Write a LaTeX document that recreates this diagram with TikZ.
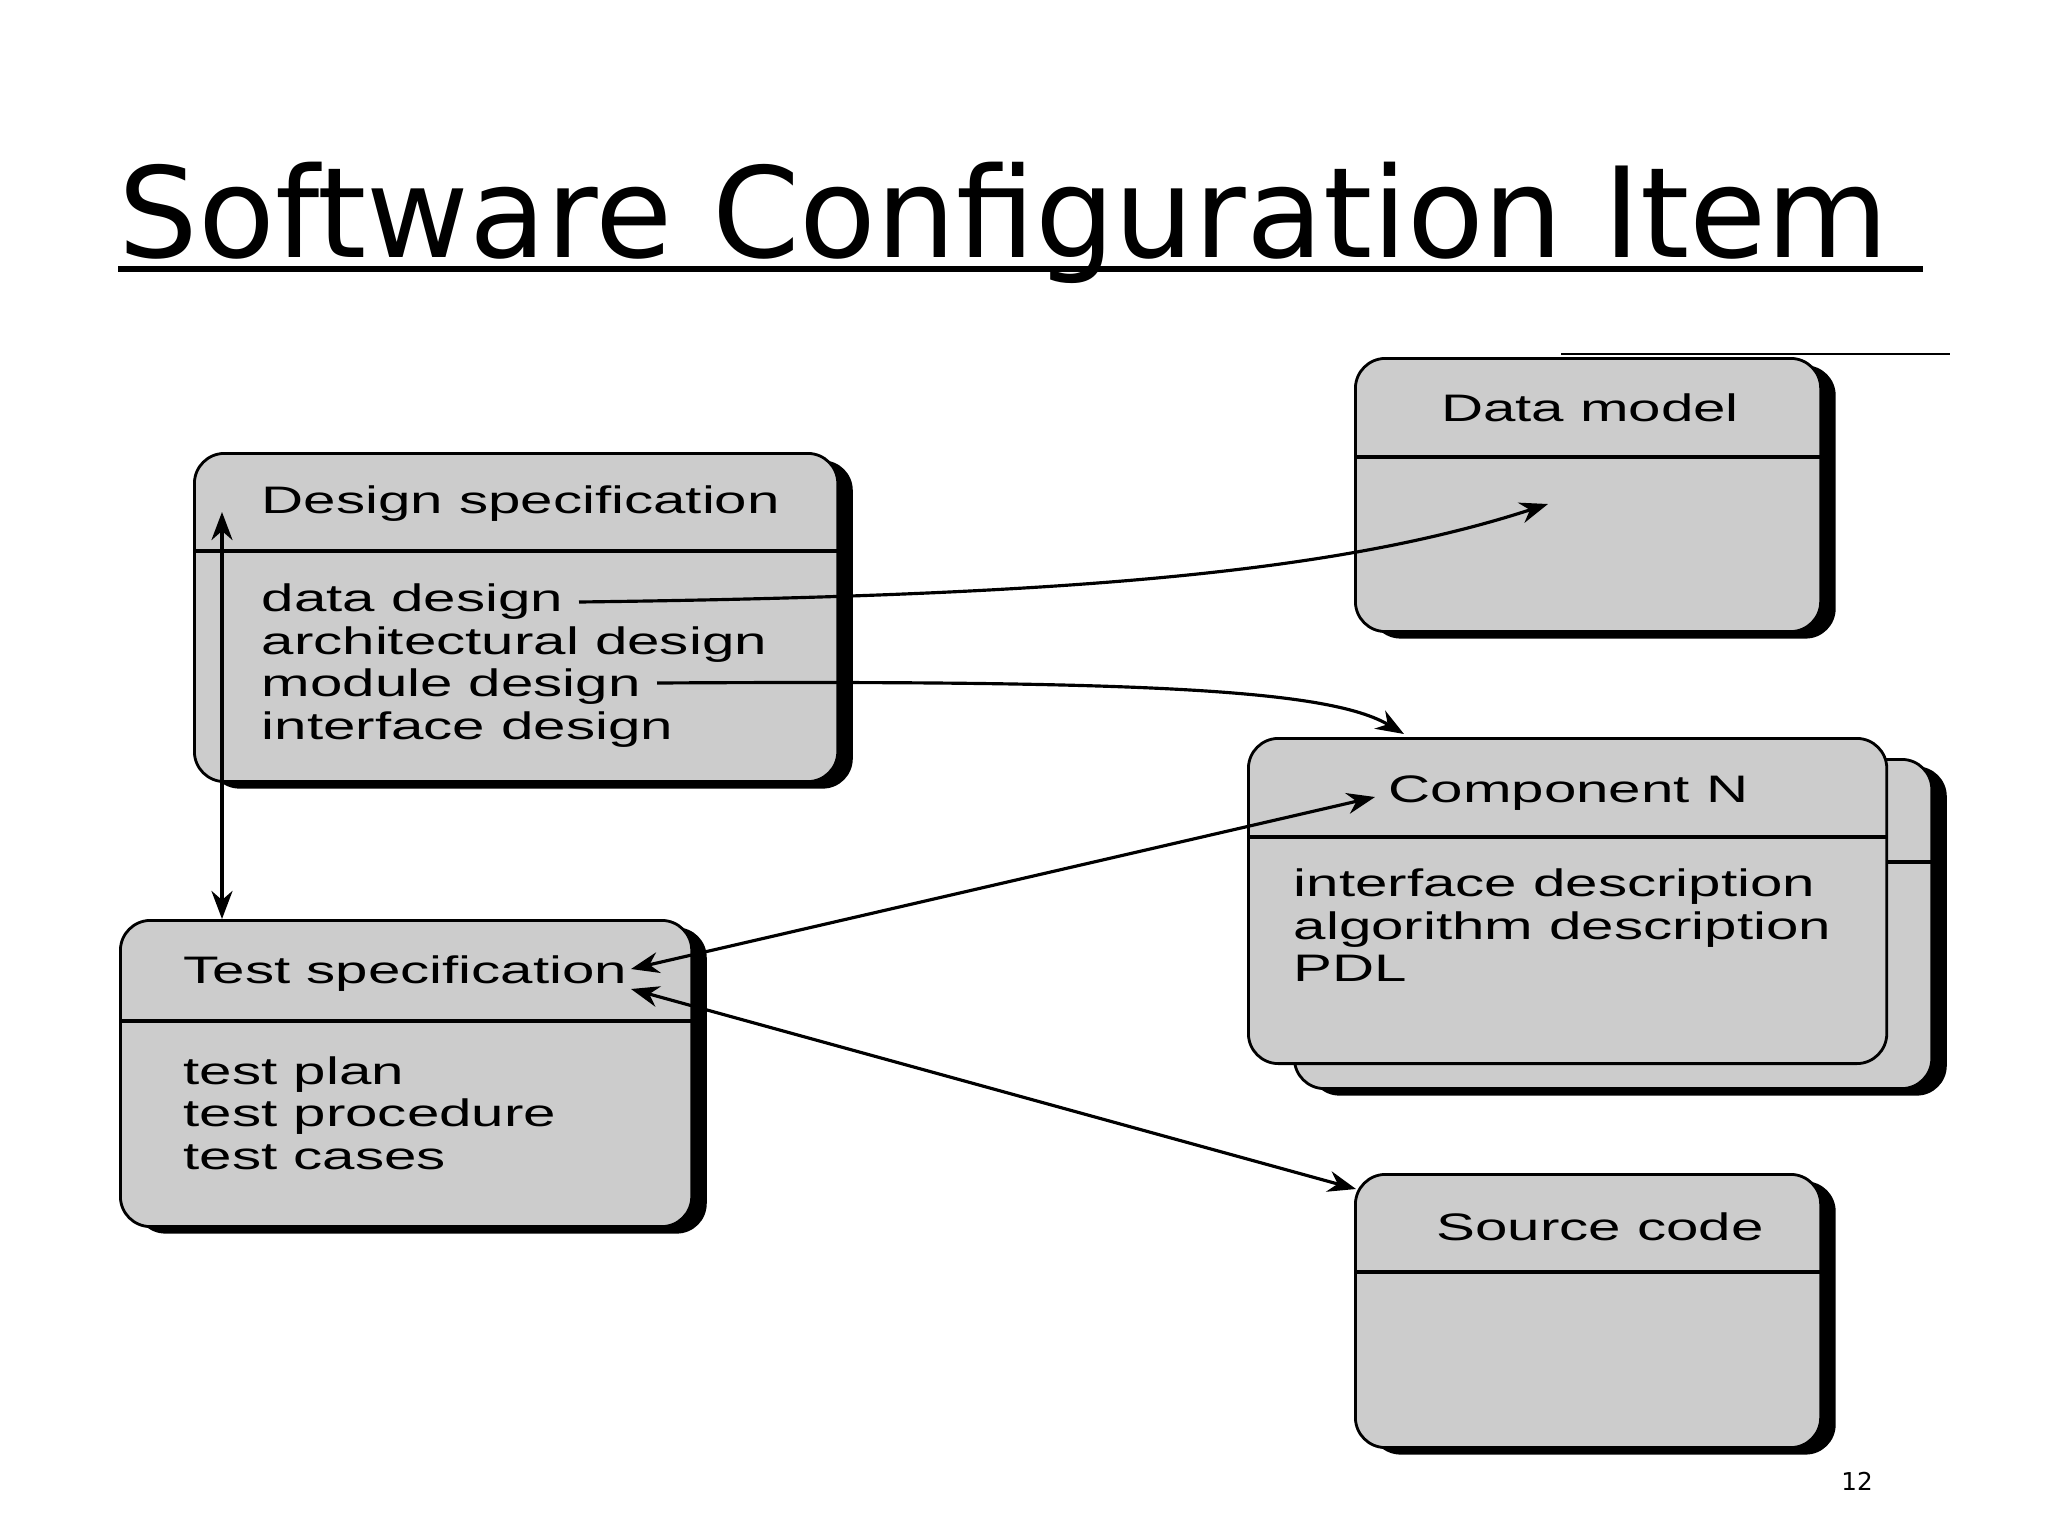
\documentclass[tikz,border=0pt]{standalone}
\usepackage{fontspec}
\usetikzlibrary{arrows.meta,shadows}
\newfontfamily\titlefont{DejaVu Sans}
\newfontfamily\diagfont[FakeStretch=1.52]{Liberation Sans}
\definecolor{boxgray}{RGB}{204,204,204}
\tikzset{
  box/.style={draw=black, line width=0.8pt, fill=boxgray, rounded corners=0.3cm, anchor=north west, inner sep=0pt},
  shadowed/.style={drop shadow={shadow xshift=0.15cm, shadow yshift=-0.07cm, opacity=1, fill=black}},
  divider/.style={line width=1pt},
  lbl/.style={font=\diagfont\fontsize{10.9pt}{12pt}\selectfont, inner sep=0pt, anchor=base west},
  ttl/.style={font=\diagfont\fontsize{10.9pt}{12pt}\selectfont, inner sep=0pt, anchor=base},
  conn/.style={line width=0.9pt},
  tip/.style={-{Stealth[length=8pt,width=6pt]}},
  tips/.style={{Stealth[length=8pt,width=6pt]}-{Stealth[length=8pt,width=6pt]}}
}
\begin{document}
\begin{tikzpicture}[x=0.01cm,y=-0.01cm]
\useasboundingbox (0,0) rectangle (2048,1536);
% title
\node[font=\titlefont\fontsize{35.7pt}{40pt}\selectfont, inner sep=0pt, anchor=base west] (title) at (118,257) {Software Configuration Item};
\draw[line width=1.85pt] (title.base west |- 0,269) -- (1923,269);
% thin line top right
\coordinate (tl1) at (1561,354);
\coordinate (tl2) at (1950,354);
\draw[line width=0.6pt] (tl1) -- (tl2);

% Design specification
\node[box, shadowed, minimum width=6.43cm, minimum height=3.28cm] (ds) at (193,452) {};
\draw[divider] (ds.west |- 0,551) -- (ds.east |- 0,551);
\node[lbl] (dst) at (261,513) {Design specification};
\node[lbl] (dd) at (261,611) {data design};
\node[lbl] (ad) at (261,654) {architectural design};
\node[lbl] (md) at (261,696) {module design};
\node[lbl] (id) at (261,739) {interface design};

% Data model
\node[box, shadowed, minimum width=4.65cm, minimum height=2.73cm] (dm) at (1354,357) {};
\draw[divider] (dm.west |- 0,457) -- (dm.east |- 0,457);
\node[ttl] (dmt) at (1590,421) {Data model};

% Component N (back and front)
\node[box, shadowed, minimum width=6.37cm, minimum height=3.29cm] (cnb) at (1293,758) {};
\draw[divider] (cnb.west |- 0,862) -- (cnb.east |- 0,862);
\node[box, minimum width=6.38cm, minimum height=3.25cm] (cn) at (1247,737) {};
\draw[divider] (cn.west |- 0,837) -- (cn.east |- 0,837);
\node[lbl] (cnt) at (1388,802) {Component N};
\node[lbl] (ifd) at (1293,896) {interface description};
\node[lbl] (alg) at (1293,939) {algorithm description};
\node[lbl] (pdl) at (1293,981) {PDL};

% Test specification
\node[box, shadowed, minimum width=5.71cm, minimum height=3.06cm] (ts) at (119,919) {};
\draw[divider] (ts.west |- 0,1021) -- (ts.east |- 0,1021);
\node[lbl] (tst) at (183,983) {Test specification};
\node[lbl] (tp) at (183,1084) {test plan};
\node[lbl] (tpr) at (183,1126) {test procedure};
\node[lbl] (tc) at (183,1169) {test cases};

% Source code
\node[box, shadowed, minimum width=4.65cm, minimum height=2.73cm] (sc) at (1354,1173) {};
\draw[divider] (sc.west |- 0,1272) -- (sc.east |- 0,1272);
\node[ttl] (sct) at (1600,1240) {Source code};

% connector end points
\coordinate (ddstart) at (579,602);
\coordinate (dmtip) at (1548,504);
\coordinate (mdstart) at (657,683);
\coordinate (cntip) at (1404,734);
\coordinate (vtop) at (222,512);
\coordinate (tsa) at (631,969);
\coordinate (tsb) at (631,989);
\coordinate (cnin) at (1375,797);
\coordinate (scin) at (1356,1189);

% connectors
\draw[conn, tip] (ddstart) .. controls (1050,596) and (1330,575) .. (dmtip);
\draw[conn, tip] (mdstart) .. controls (1150,680) and (1330,690) .. (cntip);
\draw[conn, tips] (vtop) -- (vtop |- ts.north);
\draw[conn, tips] (tsa) -- (cnin);
\draw[conn, tips] (tsb) -- (scin);

% page number
\node[font=\titlefont\fontsize{7pt}{8pt}\selectfont, inner sep=0pt, anchor=base] (pg) at (1857,1490) {12};
\end{tikzpicture}
\end{document}
